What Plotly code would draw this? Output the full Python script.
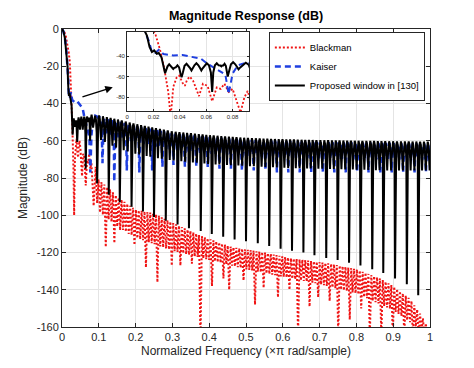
import numpy as np
import plotly.graph_objects as go

# ---------------- data ----------------
# frequency in (x pi rad/sample), magnitude in dB

# Proposed window: main lobe
black_lobe_f = [0, 0.004, 0.008, 0.011, 0.0135, 0.015, 0.017, 0.0188, 0.0205, 0.0225, 0.024, 0.026]
black_lobe_db = [0, -1.3, -5, -10, -16, -20, -31, -36, -34.4, -37.7, -37, -41]
# Proposed window: first sidelobes (inset region): nulls and the peak of the lobe after each null
black_early_null_f = [0.0288, 0.035, 0.0413, 0.0488, 0.0563, 0.0645, 0.0715, 0.0763, 0.0845]
black_early_null_db = [-56.7, -52.5, -60.7, -54, -54, -75, -50, -60, -53]
black_early_peak_db = [-48, -49, -47.5, -47, -47, -47, -47.5, -46, -46.5]
# Proposed window: deep nulls beyond the inset
black_null_f = [0.0955, 0.127, 0.157, 0.189, 0.22, 0.25, 0.282, 0.314, 0.345, 0.377, 0.407, 0.438,
                0.469, 0.5, 0.532, 0.563, 0.594, 0.625, 0.656, 0.686, 0.718, 0.749, 0.78, 0.811,
                0.843, 0.873, 0.905, 0.937, 0.968]
black_null_db = [-83, -89, -93, -95.5, -98, -101, -103, -105, -107, -108.5, -110, -111.5,
                 -113, -114, -115, -116.5, -118, -119, -120, -121.5, -123, -124, -125.5, -127,
                 -129, -131, -134, -137, -143]
# sidelobe envelopes (peaks / shallow troughs)
env_f = [0.09, 0.15, 0.2, 0.25, 0.3, 0.4, 0.5, 0.6, 0.7, 0.8, 0.9, 1.0]
black_peak_db = [-46, -48.5, -51, -53, -55, -57, -58.5, -59.2, -59.7, -60, -60.3, -60.5]
black_trough_db = [-58, -64, -67, -69, -70.5, -72.5, -73.5, -74.5, -75, -75.5, -76, -76]

# Kaiser window
blue_lobe_f = [0, 0.004, 0.008, 0.012, 0.0163, 0.0188, 0.0213, 0.024, 0.0275, 0.035, 0.042, 0.049,
               0.056, 0.061, 0.0665, 0.0745, 0.077, 0.08, 0.084, 0.09, 0.095]
blue_lobe_db = [0, -1.3, -5, -12, -24.6, -36, -37, -34, -38, -39.5, -39, -41,
                -42.6, -47.5, -52, -58, -77, -57, -49, -46.5, -47]
blue_null_f = [0.110, 0.142, 0.176, 0.210, 0.245, 0.273, 0.303, 0.334, 0.365, 0.396, 0.428, 0.459,
               0.489, 0.521, 0.553, 0.584, 0.615, 0.646, 0.677, 0.709, 0.740, 0.771, 0.802, 0.833,
               0.865, 0.896, 0.927, 0.958, 0.989]
blue_null_db = [-72, -82, -76, -77, -76, -74, -73, -74, -74, -74, -75, -75,
                -76, -76, -76, -77, -77, -77, -77, -77, -77, -77, -77, -77,
                -77, -77, -77, -77, -77]
blue_peak_db = [-47, -49.5, -52, -54, -56, -58, -59.5, -60.2, -60.7, -61, -61.3, -61.5]
blue_trough_db = [-54, -58, -61, -63, -65, -67, -68, -69, -69.5, -70, -70, -70.5]

# Blackman window: main lobe and first sidelobes (inset region)
red_lobe_f = [0, 0.005, 0.01, 0.015, 0.0185, 0.0213, 0.025, 0.028, 0.0312, 0.033, 0.035, 0.0375,
              0.0395, 0.042, 0.0438, 0.0455, 0.0475, 0.05, 0.0545, 0.0575, 0.061, 0.0645, 0.068,
              0.071, 0.0738, 0.077, 0.08, 0.086, 0.089, 0.0915]
red_lobe_db = [0, -0.8, -3.5, -8, -13, -18, -34, -51, -75, -100, -70, -61,
               -59, -66, -69, -63, -60, -64, -79, -67, -69, -84, -70.5,
               -72, -67, -75, -72, -95, -80, -74]
# Blackman sidelobe envelopes beyond the inset
red_env_f = [0.09, 0.1, 0.133, 0.15, 0.2, 0.25, 0.3, 0.377, 0.46, 0.55, 0.62, 0.73, 0.8, 0.865,
             0.9, 0.946, 0.977, 1.0]
red_peak_db = [-76, -81, -86.5, -90, -97, -99, -104, -111, -117, -120, -123, -126, -129, -134,
               -138, -145, -154, -162]
red_trough_f = [0.09, 0.1, 0.15, 0.2, 0.3, 0.4, 0.5, 0.6, 0.7, 0.8, 0.9, 0.95, 1.0]
red_trough_db = [-88, -98, -106, -112, -119, -124, -129, -133, -137, -142, -151, -158, -166]
red_spike_f = [0.117, 0.146, 0.157, 0.178, 0.2, 0.232, 0.259, 0.295, 0.322, 0.35, 0.377, 0.404,
               0.435, 0.458, 0.49, 0.521, 0.548, 0.585, 0.615, 0.639, 0.67, 0.697, 0.725, 0.752,
               0.783, 0.81, 0.837, 0.869, 0.9, 0.93, 0.955, 0.97, 0.985]
red_spike_db = [-117, -115, -108, -110, -116, -128, -136, -127, -127, -126, -170, -138,
                -134, -140, -135, -148, -139, -144, -140, -165, -149, -144, -146, -165,
                -156, -150, -165, -165, -165, -165, -165, -165, -165]
red_lobe_step = 0.0078

x_tickvals = [0, 0.1, 0.2, 0.3, 0.4, 0.5, 0.6, 0.7, 0.8, 0.9, 1]
x_ticktext = ["0", "0.1", "0.2", "0.3", "0.4", "0.5", "0.6", "0.7", "0.8", "0.9", "1"]
y_tickvals = [0, -20, -40, -60, -80, -100, -120, -140, -160]
y_ticktext = ["0", "-20", "-40", "-60", "-80", "-100", "-120", "-140", "-160"]
inset_x_tickvals = [0, 0.02, 0.04, 0.06, 0.08]
inset_x_ticktext = ["0", "0.02", "0.04", "0.06", "0.08"]
inset_y_tickvals = [-40, -60, -80]
inset_y_ticktext = ["-40", "-60", "-80"]

# drawing shape of one sidelobe between two nulls (position in lobe, dB below the peak)
ROUND_POS = [0.12, 0.3, 0.5, 0.7, 0.88]
ROUND_DROP = [9.0, 2.0, 0.0, 2.0, 9.0]
SHARP_POS = [0.5]
SHARP_DROP = [0.0]


# ---------------- build the sidelobe sequences ----------------
def shaped_lobes(nf, ndb, pdb, pos, drops):
    """nf/ndb: null positions and depths, pdb: peak of the lobe after each null."""
    xs, ys = [], []
    for i in range(len(nf) - 1):
        a, b = nf[i], nf[i + 1]
        xs.append(a)
        ys.append(ndb[i])
        for s, drop in zip(pos, drops):
            side = ndb[i] if s < 0.5 else ndb[i + 1]
            dmax = 0.7 * max(pdb[i] - side, 0.0)
            xs.append(a + s * (b - a))
            ys.append(pdb[i] - min(drop, dmax))
    xs.append(nf[-1])
    ys.append(ndb[-1])
    return xs, ys


def dense_nulls(deep_f, deep_db, n_sub, tr_f, tr_db, f_stop=1.04):
    nf, ndb = [], []
    spacing = deep_f[-1] - deep_f[-2]
    ext = list(deep_f)
    while ext[-1] < f_stop:
        ext.append(ext[-1] + spacing)
    for i in range(len(ext) - 1):
        a, b = ext[i], ext[i + 1]
        nf.append(a)
        ndb.append(deep_db[i] if i < len(deep_db) else float(np.interp(a, tr_f, tr_db)))
        for k in range(1, n_sub):
            x = a + k * (b - a) / n_sub
            nf.append(x)
            ndb.append(float(np.interp(x, tr_f, tr_db)))
    nf.append(ext[-1])
    ndb.append(float(np.interp(ext[-1], tr_f, tr_db)))
    return nf, ndb


# black
dnf, dndb = dense_nulls(black_null_f, black_null_db, 3, env_f, black_trough_db)
all_nf = black_early_null_f + dnf
all_ndb = black_early_null_db + dndb
all_pk = black_early_peak_db + [
    float(np.interp(0.5 * (dnf[i] + dnf[i + 1]), env_f, black_peak_db)) for i in range(len(dnf) - 1)]
bx, by = shaped_lobes(all_nf, all_ndb, all_pk, ROUND_POS, ROUND_DROP)
black_x = black_lobe_f + bx
black_y = black_lobe_db + by

# blue
unf, undb = dense_nulls(blue_null_f, blue_null_db, 3, env_f, blue_trough_db)
unf = [0.095] + unf
undb = [-47] + undb
upk = [float(np.interp(0.5 * (unf[i] + unf[i + 1]), env_f, blue_peak_db)) for i in range(len(unf) - 1)]
ux, uy = shaped_lobes(unf, undb, upk, ROUND_POS, ROUND_DROP)
blue_x = blue_lobe_f[:-1] + ux
blue_y = blue_lobe_db[:-1] + uy

# red
red_grid = list(np.arange(0.0955, 1.04, red_lobe_step))
red_grid_db = [float(np.interp(f, red_trough_f, red_trough_db)) for f in red_grid]
for sf, sd in zip(red_spike_f, red_spike_db):
    j = int(np.argmin([abs(g - sf) for g in red_grid]))
    red_grid_db[j] = sd
red_pk = [float(np.interp(0.5 * (red_grid[i] + red_grid[i + 1]), red_env_f, red_peak_db))
          for i in range(len(red_grid) - 1)]
rx, ry = shaped_lobes(red_grid, red_grid_db, red_pk, SHARP_POS, SHARP_DROP)
red_x = red_lobe_f + rx
red_y = red_lobe_db + ry

# ---------------- figure ----------------
RED = "#f01414"
BLUE = "#1f3fe0"
BLACK = "#000000"
FONT = "Liberation Sans, Arial, Helvetica, sans-serif"

# the page body adds an 8 px offset, so the figure is 8 px smaller than the window
W, H = 466, 360

fig = go.Figure()
series = [
    ("Blackman", red_x, red_y, dict(color=RED, width=2, dash="2px,2px")),
    ("Kaiser", blue_x, blue_y, dict(color=BLUE, width=2.5, dash="6px,4px")),
    ("Proposed window in [130]", black_x, black_y, dict(color=BLACK, width=2)),
]
for name, xs, ys, ln in series:
    fig.add_trace(go.Scatter(x=xs, y=ys, mode="lines", name=name, line=ln,
                             xaxis="x", yaxis="y"))
for name, xs, ys, ln in series:
    ln2 = dict(ln)
    ln2["width"] = 2 if name != "Blackman" else 1.8
    fig.add_trace(go.Scatter(x=xs, y=ys, mode="lines", name=name, line=ln2,
                             xaxis="x2", yaxis="y2", showlegend=False))

axis_common = dict(showline=True, linecolor="#262626", linewidth=1, mirror="ticks",
                   ticks="inside", tickcolor="#262626", showgrid=True, gridcolor="#e4e4e4",
                   gridwidth=1, zeroline=False)

fig.update_layout(
    width=W, height=H,
    margin=dict(l=54, r=44, t=21, b=41),
    paper_bgcolor="white", plot_bgcolor="white",
    font=dict(family=FONT, size=11, color="#262626"),
    title=dict(text="<b>Magnitude Response (dB)</b>", x=(246 - 8) / W, xanchor="center",
               y=1 - 7.5 / H, yanchor="middle", font=dict(family=FONT, size=12.5, color="#000000")),
    xaxis=dict(domain=[0, 1], range=[0, 1], tickvals=x_tickvals, ticktext=x_ticktext,
               ticklen=4, tickfont=dict(size=11),
               title=dict(text="Normalized Frequency (\u00d7\u03c0 rad/sample)", font=dict(size=12),
                          standoff=4),
               anchor="y", **axis_common),
    yaxis=dict(domain=[0, 1], range=[-160, 0], tickvals=y_tickvals, ticktext=y_ticktext,
               ticklen=4, tickfont=dict(size=11),
               title=dict(text="Magnitude (dB)", font=dict(size=12), standoff=6),
               anchor="x", **axis_common),
    xaxis2=dict(domain=[0.177, 0.508], range=[0, 0.0924], tickvals=inset_x_tickvals,
                ticktext=inset_x_ticktext, ticklen=2, tickfont=dict(size=6),
                anchor="y2", **axis_common),
    yaxis2=dict(domain=[0.725, 0.99], range=[-93.5, -16.5], tickvals=inset_y_tickvals,
                ticktext=inset_y_ticktext, ticklen=2, tickfont=dict(size=6),
                anchor="x2", **axis_common),
    legend=dict(x=0.986, xanchor="right", y=0.99, yanchor="top", bgcolor="white",
                bordercolor="#262626", borderwidth=1, font=dict(family=FONT, size=9.5, color="#000000"),
                itemwidth=30, tracegroupgap=0),
    showlegend=True,
)

fig.add_annotation(x=0.138, y=-31.3, ax=0.0515, ay=-36.7, xref="x", yref="y", axref="x", ayref="y",
                   text="", showarrow=True, arrowhead=2, arrowsize=1, arrowwidth=1.5,
                   arrowcolor="#000000", standoff=0)

fig.write_html("out.html")
